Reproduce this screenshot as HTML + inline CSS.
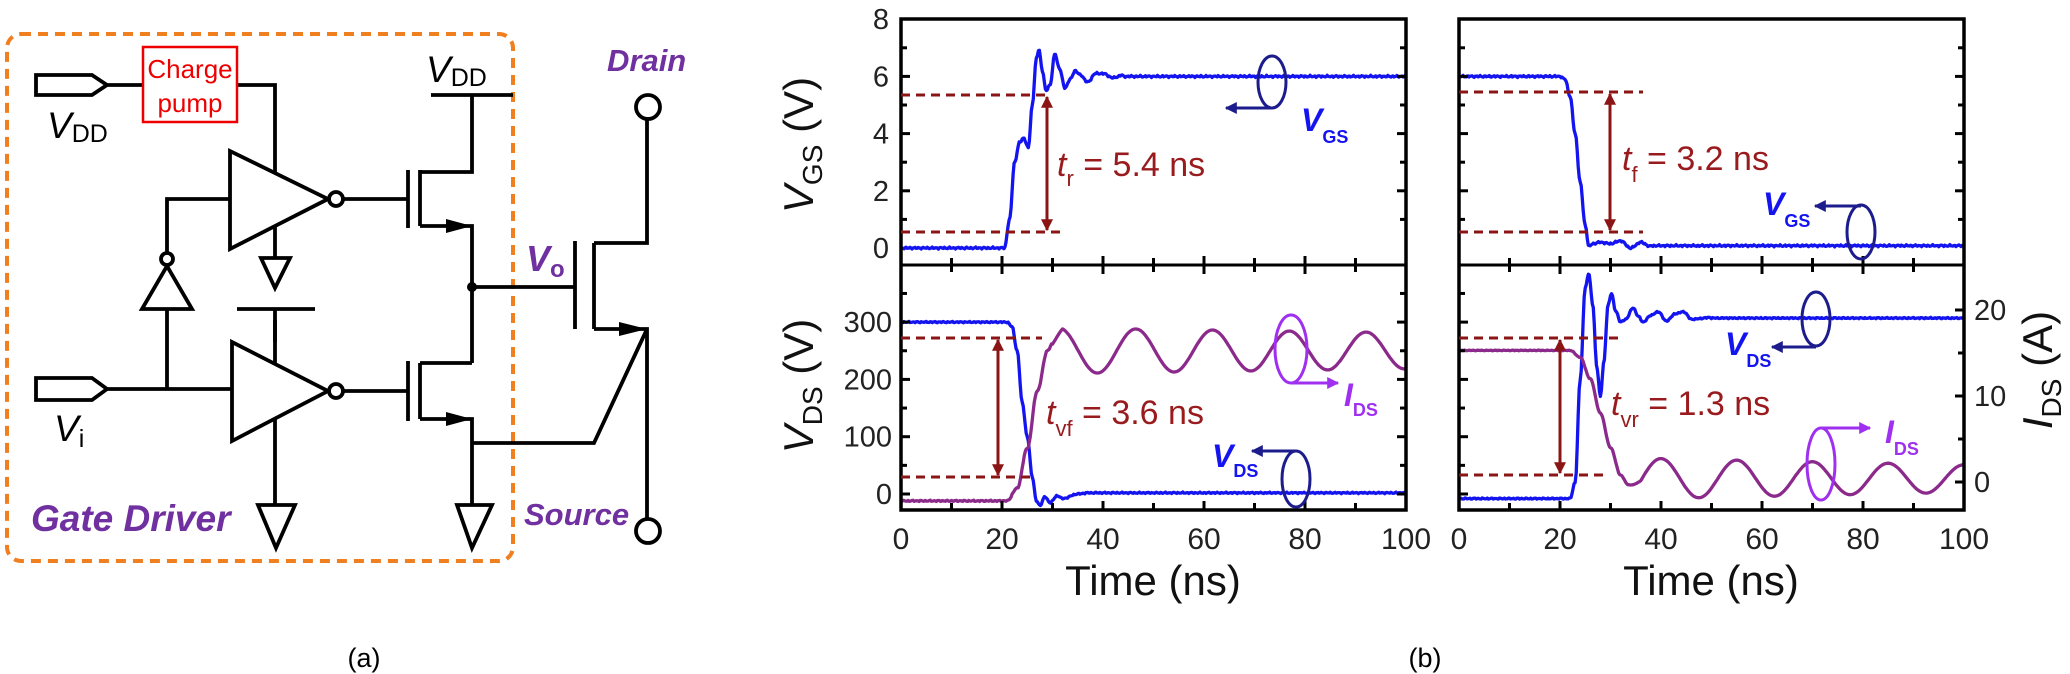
<!DOCTYPE html>
<html><head><meta charset="utf-8"><style>
html,body{margin:0;padding:0;background:#fff;}
svg{display:block;font-family:"Liberation Sans",sans-serif;}
</style></head><body>
<svg id="s" width="2070" height="674" viewBox="0 0 2070 674" xmlns="http://www.w3.org/2000/svg">
<defs>
<marker id="ar" viewBox="0 0 10 10" refX="9" refY="5" markerWidth="4" markerHeight="4" orient="auto-start-reverse"><path d="M0,0 L10,5 L0,10 z" fill="#8B1414"/></marker>
<marker id="an" viewBox="0 0 10 10" refX="9" refY="5" markerWidth="5" markerHeight="4" orient="auto"><path d="M0,0 L10,5 L0,10 z" fill="#1C1C8C"/></marker>
<marker id="av" viewBox="0 0 10 10" refX="9" refY="5" markerWidth="5" markerHeight="4" orient="auto"><path d="M0,0 L10,5 L0,10 z" fill="#A030F0"/></marker>
<clipPath id="c1"><rect x="901" y="19" width="505" height="246"/></clipPath>
<clipPath id="c2"><rect x="901" y="265" width="505" height="245"/></clipPath>
<clipPath id="c3"><rect x="1459" y="19" width="505" height="246"/></clipPath>
<clipPath id="c4"><rect x="1459" y="265" width="505" height="245"/></clipPath>
</defs>

<!-- ===== Circuit (a) ===== -->
<rect x="7" y="34" width="506" height="527" rx="14" fill="none" stroke="#F07F20" stroke-width="4" stroke-dasharray="10,7"/>
<g stroke="#000" stroke-width="3.8" fill="none">
<path d="M36,75 L92,75 L107,85 L92,95 L36,95 Z"/>
<path d="M107,85 L143,85"/>
<path d="M237,85 L275,85 L275,172"/>
<path d="M230,151 L230,249 L328,199 Z"/>
<circle cx="336" cy="199" r="7" fill="#fff"/>
<path d="M343,199 L408,199"/>
<path d="M408,170 L408,228"/>
<path d="M420,170 L420,226"/>
<path d="M420,172 L472,172 L472,95"/>
<path d="M431,95 L513,95"/>
<path d="M420,226 L472,226 L472,363"/>
<path d="M472,287 L574,287"/>
<path d="M275,226 L275,258"/>
<path d="M261,258 L290,258 L275,288 Z"/>
<path d="M237,309 L315,309"/>
<path d="M275,309 L275,505"/>
<path d="M142,309 L192,309 L167,266 Z"/>
<circle cx="167" cy="259" r="6" fill="#fff"/>
<path d="M167,253 L167,199 L230,199"/>
<path d="M167,309 L167,389"/>
<path d="M36,378 L92,378 L107,389 L92,400 L36,400 Z"/>
<path d="M107,389 L232,389"/>
<path d="M232,342 L232,441 L328,391 Z" fill="#fff"/>
<circle cx="336" cy="391" r="7" fill="#fff"/>
<path d="M343,391 L408,391"/>
<path d="M408,361 L408,421"/>
<path d="M420,363 L420,419"/>
<path d="M420,363 L472,363"/>
<path d="M420,419 L472,419 L472,505"/>
<path d="M457,505 L492,505 L472,548 Z"/>
<path d="M258,505 L295,505 L276,548 Z"/>
<path d="M472,443 L594,443 L647,329"/>
<path d="M575,241 L575,329"/>
<path d="M594,243 L594,329"/>
<path d="M594,243 L647,243 L647,119"/>
<path d="M594,329 L647,329 L647,519"/>
<circle cx="648" cy="107" r="12" fill="#fff"/>
<circle cx="648" cy="531" r="12" fill="#fff"/>
</g>
<path d="M275,320 L275,342" stroke="#000" stroke-width="3.8"/>
<polygon points="446,219 472,226 446,233" fill="#000"/>
<polygon points="446,412 472,419 446,426" fill="#000"/>
<polygon points="619,322 647,329 619,336" fill="#000"/>
<circle cx="472" cy="287" r="5" fill="#000"/>
<rect x="143" y="47" width="94" height="75" fill="#fff" stroke="#E00" stroke-width="2.5"/>
<text x="190" y="78" font-size="26" fill="#E00" text-anchor="middle">Charge</text>
<text x="190" y="112" font-size="26" fill="#E00" text-anchor="middle">pump</text>
<text x="47" y="138" font-size="37" font-style="italic">V<tspan font-style="normal" font-size="25" dy="4">DD</tspan></text>
<text x="426" y="82" font-size="37" font-style="italic">V<tspan font-style="normal" font-size="25" dy="4">DD</tspan></text>
<text x="54" y="441" font-size="37" font-style="italic">V<tspan font-style="normal" font-size="25" dy="6">i</tspan></text>
<g fill="#7030A0" font-weight="bold" font-style="italic">
<text x="607" y="71" font-size="31">Drain</text>
<text x="524" y="525" font-size="31">Source</text>
<text x="526" y="271" font-size="36">V<tspan font-size="24" dy="6" font-style="normal">o</tspan></text>
<text x="31" y="531" font-size="37">Gate Driver</text>
</g>
<text x="364" y="667" font-size="27" text-anchor="middle">(a)</text>
<text x="1425" y="667" font-size="27" text-anchor="middle">(b)</text>

<g id="plots"></g>
</svg>
<script>
(function(){
var NS="http://www.w3.org/2000/svg",P=document.getElementById("plots");
function el(t,a,txt){var e=document.createElementNS(NS,t);for(var k in a)e.setAttribute(k,a[k]);if(txt!=null)e.textContent=txt;P.appendChild(e);return e;}
function interp(k,t){if(t<=k[0][0])return k[0][1];for(var i=1;i<k.length;i++){if(t<=k[i][0]){var a=k[i-1],b=k[i];var f=(t-a[0])/(b[0]-a[0]);f=(1-Math.cos(Math.PI*f))/2;return a[1]+(b[1]-a[1])*f;}}return k[k.length-1][1];}
function nz(t,s){return Math.sin(t*7.3+s)*0.5+Math.sin(t*13.1+2*s)*0.3+Math.sin(t*3.7+s*3)*0.2;}
function line(x0,fy,f,col,clip,w){var d="";for(var t=0;t<=100.001;t+=0.2){var x=x0+5.05*t,y=fy(f(t));d+=(d?"L":"M")+x.toFixed(1)+","+y.toFixed(1);}el("path",{d:d,fill:"none",stroke:col,"stroke-width":w||3.3,"clip-path":"url(#"+clip+")","stroke-linejoin":"round"});}
var Yg=function(v){return 248-28.6*v},Yd=function(v){return 494-0.573*v},Yi=function(i){return 482-8.6*i};
var BL="#1414F0",PU="#8B2A8B";
var k1=[[0,0],[20.5,0],[21.5,1],[22.5,3],[23.5,3.7],[24.3,3.85],[25.2,3.5],[26,5],[26.8,6.6],[27.3,6.95],[28,6.2],[28.7,5.5],[29.5,5.7],[30.5,6.8],[31.3,6.3],[32.5,5.6],[33.5,5.9],[34.5,6.2],[35.5,6.05],[37,5.8],[38.5,6.1],[40,6.1],[42,5.95],[44,6.05]];
line(901,Yg,function(t){return (t<44?interp(k1,t):6)+0.04*nz(t,1);},BL,"c1");
var k3=[[0,6],[20,6],[21,5.9],[22,5.3],[23,4],[24,2.3],[25,0.8],[25.7,0.05],[26.5,0.15],[28,0.2],[30,0.15],[32,0.25],[34,0.0],[36,0.2],[38,0.05]];
line(1459,Yg,function(t){return (t<38?interp(k3,t):0.08)+0.04*nz(t,2);},BL,"c3");
var k2=[[0,300],[21,300],[22,292],[23,250],[24,160],[25,100],[26,30],[26.8,-12],[27.5,-20],[28.5,-5],[29.5,-15],[31,-3],[32,-8],[35,0],[37,2]];
line(901,Yd,function(t){return (t<37?interp(k2,t):2)+1.5*nz(t,3);},BL,"c2");
var k2i=[[0,-12],[21,-12],[23,10],[25,80],[27,180],[29,250],[30,262]];
line(901,Yd,function(t){if(t<30)return interp(k2i,t)+1.5*nz(t,4);var A=40-0.12*(t-30);var v=250+A*Math.cos(2*Math.PI*(t-46.5)/15.2);if(t<32){var f=(t-30)/2;v=262*(1-f)+v*f;}return v;},PU,"c2");
var k4=[[0,-8],[22,-8],[23,20],[24,200],[25,360],[25.7,385],[26.5,330],[27.3,220],[28,170],[28.7,230],[29.5,330],[30.2,350],[31,320],[32,300],[33,305],[34.5,325],[35.5,310],[36.5,300],[38,312],[39.5,318],[41,302],[43,315],[44.5,318],[46,305],[50,308]];
line(1459,Yd,function(t){return (t<50?interp(k4,t):307)+1.5*nz(t,5);},BL,"c4");
var k4i=[[0,15.3],[22,15.3],[24,14.5],[26,12],[28,8],[30,4],[32,0.8],[33.5,-0.3]];
line(1459,Yi,function(t){if(t<33.5)return interp(k4i,t)+0.05*nz(t,6);var A=2.4-0.012*(t-33.5);return 0.4+A*Math.cos(2*Math.PI*(t-40)/15)+(t<36?(-0.3-(0.4+A*Math.cos(2*Math.PI*(33.5-40)/15)))*(36-t)/2.5:0);},PU,"c4");
[901,1459].forEach(function(x0,pi){
 el("rect",{x:x0,y:19,width:505,height:491,fill:"none",stroke:"#000","stroke-width":3.5});
 el("line",{x1:x0,y1:265,x2:x0+505,y2:265,stroke:"#000","stroke-width":3});
 for(var t=10;t<100;t+=10){var x=x0+5.05*t,L=t%20==0?9:7;
  el("line",{x1:x,y1:265-L,x2:x,y2:265+L,stroke:"#000","stroke-width":3});
  el("line",{x1:x,y1:510,x2:x,y2:510-L,stroke:"#000","stroke-width":3});}
 for(var v=1;v<8;v++){var y=Yg(v),L=v%2==0?9:6;
  el("line",{x1:x0,y1:y,x2:x0+L,y2:y,stroke:"#000","stroke-width":3});
  el("line",{x1:x0+505,y1:y,x2:x0+505-L,y2:y,stroke:"#000","stroke-width":3});}
 for(var v=0;v<=350;v+=50){var y=Yd(v),L=v%100==0?9:6;
  el("line",{x1:x0,y1:y,x2:x0+L,y2:y,stroke:"#000","stroke-width":3});
  if(pi==0)el("line",{x1:x0+505,y1:y,x2:x0+505-L,y2:y,stroke:"#000","stroke-width":3});}
 for(var t=0;t<=100;t+=20){el("text",{x:x0+5.05*t,y:549,"font-size":30,"text-anchor":"middle",fill:"#222"},String(t));}
 el("text",{x:x0+252,y:595,"font-size":42,"text-anchor":"middle",fill:"#111"},"Time (ns)");
});
for(var i=0;i<=20;i+=5){var y=Yi(i),L=i%10==0?9:6;el("line",{x1:1964,y1:y,x2:1964-L,y2:y,stroke:"#000","stroke-width":3});}
[0,2,4,6,8].forEach(function(v){el("text",{x:889,y:Yg(v)+10,"font-size":29,"text-anchor":"end",fill:"#222"},String(v));});
[0,100,200,300].forEach(function(v){el("text",{x:892,y:Yd(v)+10,"font-size":29,"text-anchor":"end",fill:"#222"},String(v));});
[0,10,20].forEach(function(v){el("text",{x:1974,y:Yi(v)+10,"font-size":29,fill:"#222"},String(v));});
})();
</script>
<script>
(function(){
var s=document.getElementById("s");
s.insertAdjacentHTML("beforeend",
'<g font-size="42" fill="#111">'+
'<text transform="rotate(-90 813 145)" x="813" y="145" text-anchor="middle" font-style="italic">V<tspan font-style="normal" font-size="28" dy="9">GS</tspan><tspan font-style="normal" dy="-9"> (V)</tspan></text>'+
'<text transform="rotate(-90 813 386)" x="813" y="386" text-anchor="middle" font-style="italic">V<tspan font-style="normal" font-size="28" dy="9">DS</tspan><tspan font-style="normal" dy="-9"> (V)</tspan></text>'+
'<text transform="rotate(-90 2052 370)" x="2052" y="370" text-anchor="middle" font-style="italic">I<tspan font-style="normal" font-size="28" dy="9">DS</tspan><tspan font-style="normal" dy="-9"> (A)</tspan></text>'+
'</g>'+
'<g stroke="#8B1414" stroke-width="3" stroke-dasharray="9,6" fill="none">'+
'<line x1="901" y1="95" x2="1047" y2="95"/><line x1="901" y1="232" x2="1064" y2="232"/>'+
'<line x1="901" y1="338" x2="1042" y2="338"/><line x1="901" y1="477" x2="1032" y2="477"/>'+
'<line x1="1459" y1="92" x2="1643" y2="92"/><line x1="1459" y1="232" x2="1643" y2="232"/>'+
'<line x1="1459" y1="338" x2="1624" y2="338"/><line x1="1459" y1="475" x2="1605" y2="475"/>'+
'</g>'+
'<g stroke="#8B1414" stroke-width="3" marker-start="url(#ar)" marker-end="url(#ar)">'+
'<line x1="1047" y1="97" x2="1047" y2="230"/><line x1="998" y1="340" x2="998" y2="475"/>'+
'<line x1="1610" y1="94" x2="1610" y2="230"/><line x1="1560" y1="340" x2="1560" y2="473"/>'+
'</g>'+
'<g fill="#9A1B1E" font-size="34">'+
'<text x="1057" y="176"><tspan font-style="italic">t</tspan><tspan font-size="22" dy="10">r</tspan><tspan dy="-10"> = 5.4 ns</tspan></text>'+
'<text x="1046" y="424"><tspan font-style="italic">t</tspan><tspan font-size="22" dy="12">vf</tspan><tspan dy="-12"> = 3.6 ns</tspan></text>'+
'<text x="1622" y="170"><tspan font-style="italic">t</tspan><tspan font-size="22" dy="12">f</tspan><tspan dy="-12"> = 3.2 ns</tspan></text>'+
'<text x="1611" y="415"><tspan font-style="italic">t</tspan><tspan font-size="22" dy="12">vr</tspan><tspan dy="-12"> = 1.3 ns</tspan></text>'+
'</g>'+
'<g fill="none" stroke-width="3">'+
'<ellipse cx="1272" cy="82" rx="14" ry="26" stroke="#1C1C8C"/><path d="M1272,108 L1226,108" stroke="#1C1C8C" marker-end="url(#an)"/>'+
'<ellipse cx="1291" cy="349" rx="16" ry="34" stroke="#A030F0"/><path d="M1291,383 L1338,383" stroke="#A030F0" marker-end="url(#av)"/>'+
'<ellipse cx="1296" cy="479" rx="14" ry="28" stroke="#1C1C8C"/><path d="M1296,451 L1252,451" stroke="#1C1C8C" marker-end="url(#an)"/>'+
'<ellipse cx="1861" cy="232" rx="14" ry="27" stroke="#1C1C8C"/><path d="M1861,206 L1815,206" stroke="#1C1C8C" marker-end="url(#an)"/>'+
'<ellipse cx="1816" cy="319" rx="14" ry="27" stroke="#1C1C8C"/><path d="M1816,347 L1772,347" stroke="#1C1C8C" marker-end="url(#an)"/>'+
'<ellipse cx="1821" cy="464" rx="14" ry="36" stroke="#A030F0"/><path d="M1821,428 L1870,428" stroke="#A030F0" marker-end="url(#av)"/>'+
'</g>'+
'<g font-weight="bold" font-style="italic" font-size="32">'+
'<text x="1301" y="131" fill="#1414F0">V<tspan font-size="18" dy="12" font-style="normal">GS</tspan></text>'+
'<text x="1344" y="406" fill="#A030F0">I<tspan font-size="18" dy="10" font-style="normal">DS</tspan></text>'+
'<text x="1212" y="467" fill="#1414F0">V<tspan font-size="18" dy="10" font-style="normal">DS</tspan></text>'+
'<text x="1763" y="215" fill="#1414F0">V<tspan font-size="18" dy="12" font-style="normal">GS</tspan></text>'+
'<text x="1725" y="355" fill="#1414F0">V<tspan font-size="18" dy="12" font-style="normal">DS</tspan></text>'+
'<text x="1885" y="443" fill="#A030F0">I<tspan font-size="18" dy="12" font-style="normal">DS</tspan></text>'+
'</g>');
})();
</script>
</body></html>
